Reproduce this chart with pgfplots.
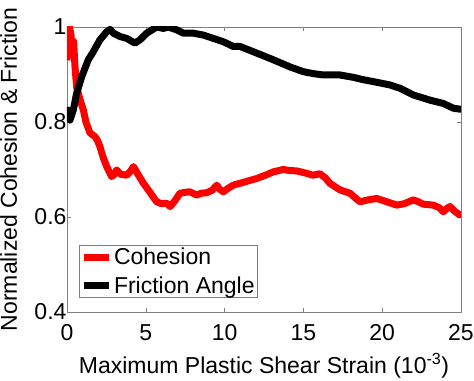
\documentclass[border=0pt]{standalone}
\usepackage{fontspec}
\setmainfont{Liberation Sans}
\usepackage{pgfplots}
\pgfplotsset{compat=1.18}
\begin{document}
\begin{tikzpicture}[x=1pt,y=1pt]
\begin{axis}[name=ax,
  scale only axis, width=394pt, height=285pt,
  xmin=0, xmax=25, ymin=0.4, ymax=1,
  xtick={0,5,10,15,20,25}, ytick={0.4,0.6,0.8,1},
  yticklabels={0.4,0.6,0.8,1},
  axis line style={draw=black!50}, 
  major tick style={draw=black!50},
  major tick length=4pt,
  tick align=inside,
  font=\fontsize{23}{27}\selectfont,
  /pgf/number format/assume math mode=true,
  xticklabel style={anchor=base, yshift=-29pt},
  yticklabel style={xshift=3pt},
  xlabel={Maximum Plastic Shear Strain (10\textsuperscript{-3})},
  ylabel={Normalized Cohesion \& Friction},
  xlabel style={at={(axis description cs:0.5,-0.2175)}, anchor=base},
  ylabel style={at={(axis description cs:-0.127,0.5)}, anchor=base},
  legend style={at={(0.03,0.05)}, anchor=south west, draw=black!50, fill=white,
    font=\fontsize{23}{27}\selectfont, inner sep=1pt, row sep=6pt},
  legend cell align=left,
  legend image post style={line width=7pt},
  legend image code/.code={\draw[#1] (0pt,0pt) -- (25pt,0pt);},
]
\addplot[red, line width=7pt, line join=round] coordinates {
(0,0.93)(0.08,0.96)(0.15,1.0)(0.25,0.985)(0.32,0.95)(0.42,0.97)(0.5,0.92)(0.61,0.874)(0.8,0.85)(1.04,0.825)(1.2,0.8)(1.46,0.777)(1.78,0.769)(1.95,0.76)(2.09,0.748)(2.3,0.725)(2.52,0.706)(2.83,0.685)(3.0,0.69)(3.15,0.699)(3.4,0.69)(3.79,0.688)(4.0,0.695)(4.22,0.706)(4.5,0.69)(4.85,0.671)(5.2,0.655)(5.69,0.632)(6.0,0.628)(6.33,0.629)(6.54,0.622)(6.8,0.632)(7.17,0.650)(7.5,0.652)(7.8,0.653)(8.23,0.646)(8.5,0.65)(8.86,0.651)(9.2,0.656)(9.5,0.667)(9.7,0.658)(9.92,0.653)(10.2,0.66)(10.55,0.667)(10.98,0.671)(11.5,0.676)(12.03,0.681)(12.6,0.688)(13.09,0.695)(13.72,0.700)(14.1,0.698)(14.57,0.697)(15.2,0.692)(15.6,0.688)(16.05,0.691)(16.4,0.682)(16.68,0.671)(17.32,0.657)(17.96,0.650)(18.3,0.64)(18.59,0.632)(19.1,0.636)(19.65,0.639)(20.3,0.632)(20.93,0.625)(21.4,0.628)(21.97,0.636)(22.3,0.632)(22.6,0.627)(23.24,0.625)(23.6,0.62)(23.88,0.611)(24.1,0.618)(24.3,0.622)(24.6,0.612)(24.94,0.604)(25,0.605)
};
\addlegendentry{Cohesion}
\addplot[black, line width=7pt, line join=round] coordinates {
(0,0.82)(0.08,0.825)(0.19,0.804)(0.4,0.825)(0.61,0.86)(0.93,0.895)(1.35,0.931)(1.67,0.948)(2.09,0.973)(2.52,0.99)(2.73,0.995)(2.94,0.987)(3.36,0.98)(3.79,0.976)(4.31,0.966)(4.63,0.973)(5.06,0.987)(5.69,1.0)(6.11,0.997)(6.43,1.0)(6.96,0.994)(7.38,0.987)(8.01,0.987)(8.65,0.983)(9.28,0.976)(9.92,0.969)(10.55,0.959)(10.98,0.959)(11.82,0.948)(13.09,0.931)(14.15,0.916)(14.99,0.906)(15.6,0.902)(16.26,0.899)(17.32,0.899)(18.17,0.894)(18.8,0.889)(19.44,0.885)(20.49,0.878)(21.13,0.871)(21.97,0.857)(23.03,0.846)(23.88,0.839)(24.52,0.829)(24.94,0.827)(25,0.827)
};
\addlegendentry{Friction Angle}
\end{axis}
\pgfresetboundingbox
\path (ax.south west) ++(-67pt,-69pt) coordinate (bl);
\path (ax.north east) ++(13pt,27pt) coordinate (tr);
\useasboundingbox (bl) rectangle (tr);
\end{tikzpicture}
\end{document}
